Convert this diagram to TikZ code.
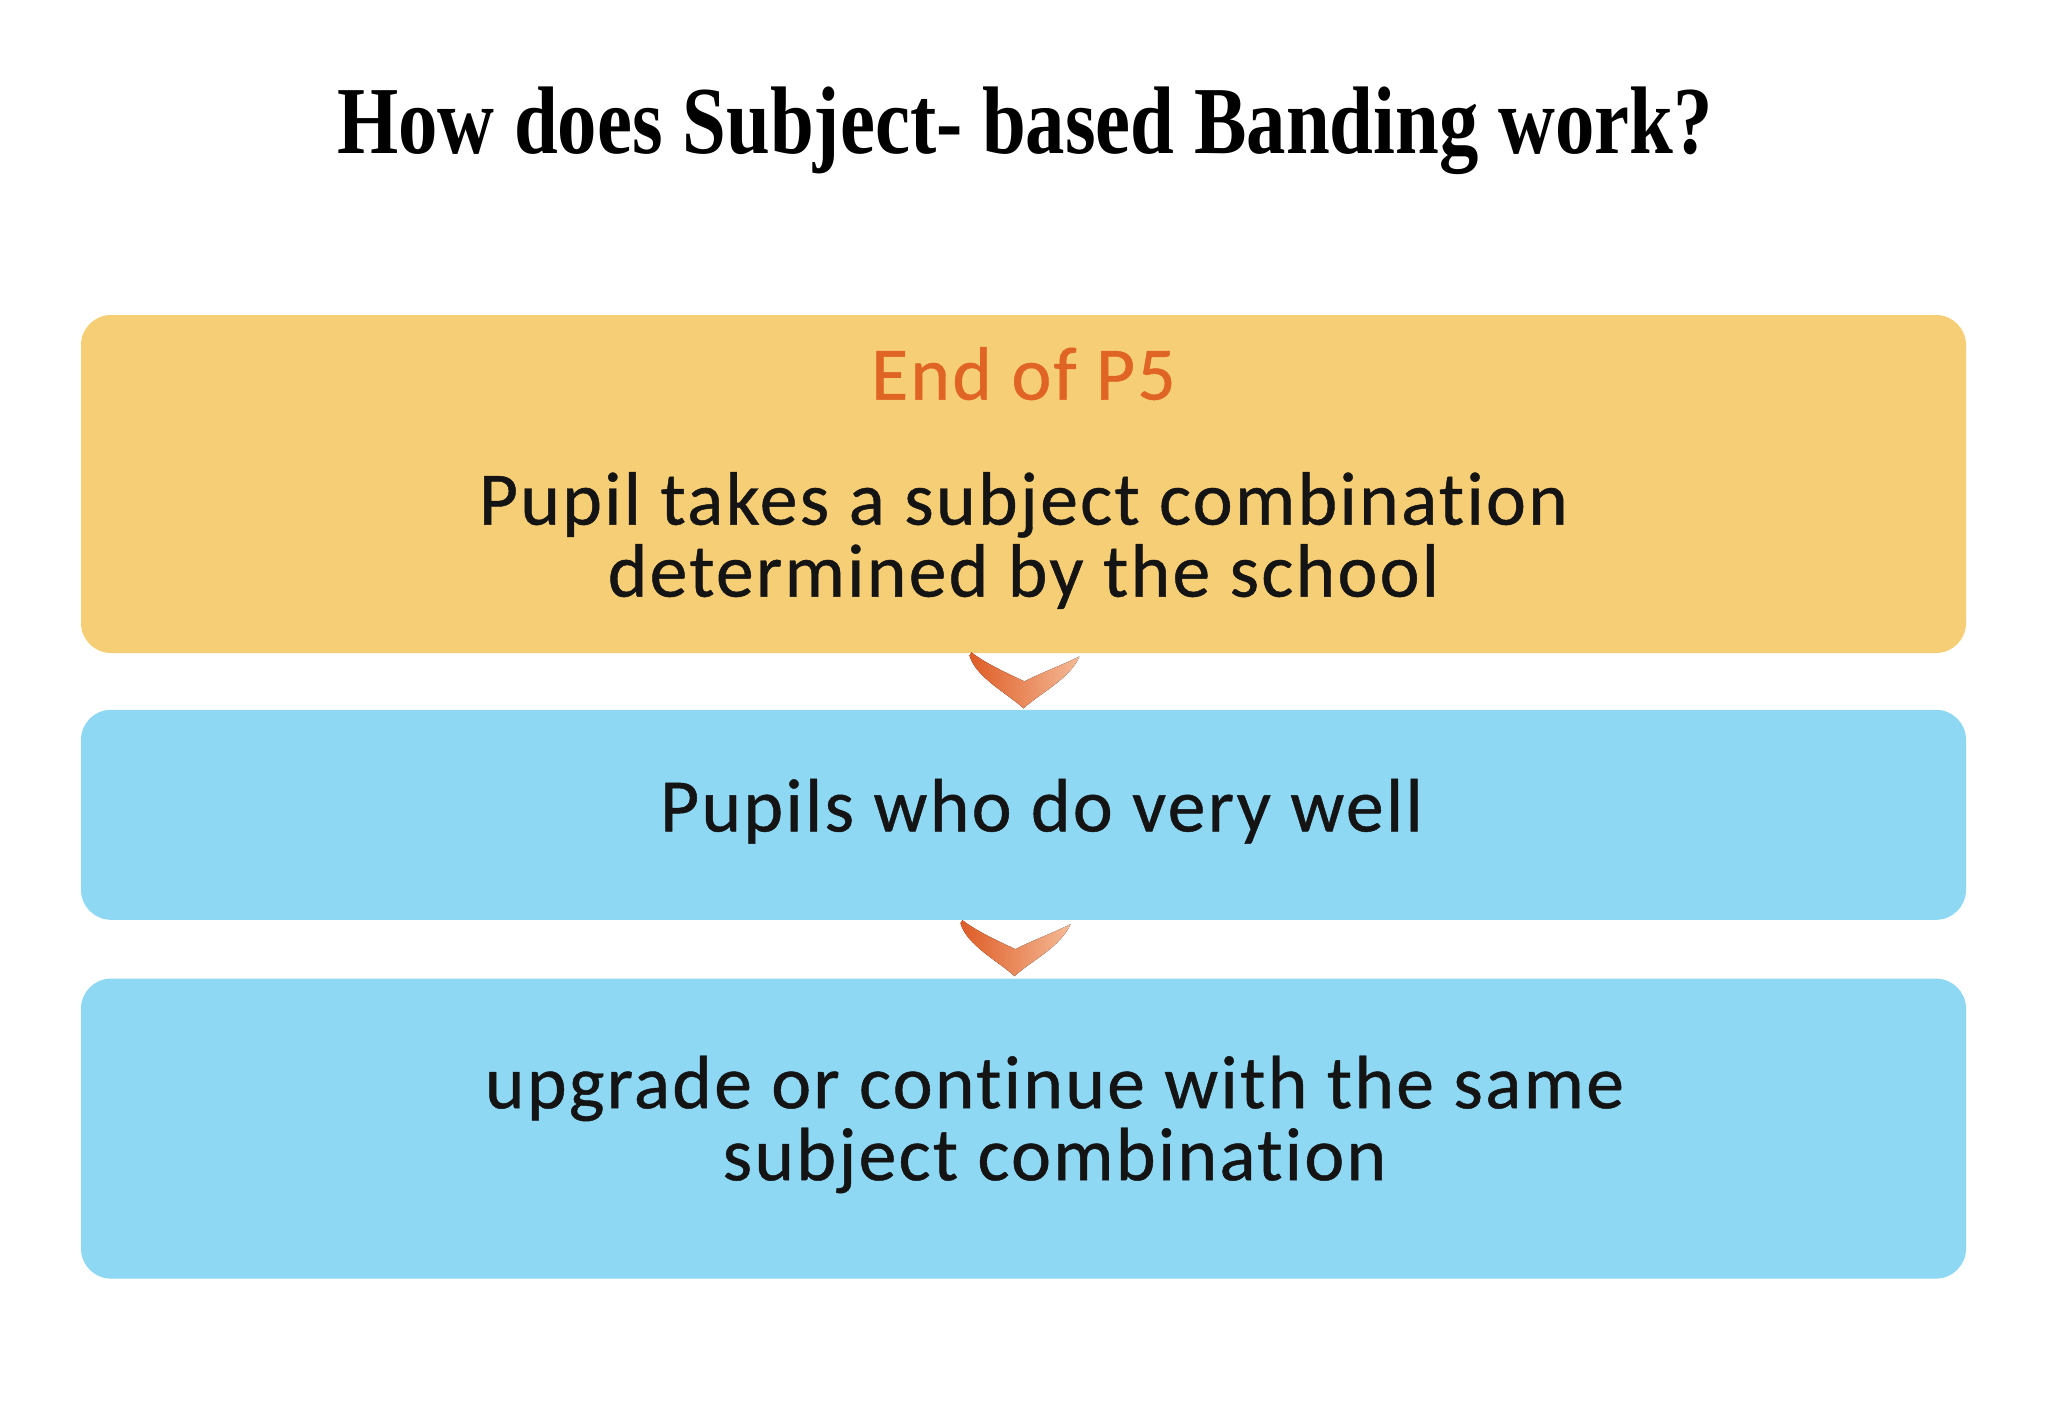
\documentclass[tikz,border=0pt]{standalone}
\usepackage{fontspec}
\setmainfont{Carlito}[LetterSpace=3, FakeBold=0.6, Ligatures=NoCommon]
\newfontfamily\titlefont[FakeStretch=0.82]{Liberation Serif}
\usetikzlibrary{positioning,calc}
\definecolor{bandyellow}{RGB}{246,206,118}
\definecolor{bandblue}{RGB}{142,216,244}
\definecolor{bandorange}{RGB}{224,100,36}
\definecolor{chevdark}{RGB}{222,92,38}
\definecolor{chevlight}{RGB}{245,186,150}
\tikzstyle{stage} = [rectangle, rounded corners=15pt, minimum width=942.5pt, inner sep=0pt]
\tikzstyle{say} = [anchor=base, align=center, inner sep=0pt, text=black!92, font=\fontsize{37.8}{36}\selectfont]
\tikzstyle{chev} = [left color=chevdark, right color=chevlight]

\begin{document}
\begin{tikzpicture}[x=0.5pt,y=-0.5pt,node distance=28pt]
  \useasboundingbox (0,0) rectangle (2048,1418);
  \node[anchor=base, inner sep=0pt, font=\titlefont\bfseries\fontsize{48}{48}\selectfont] (title) at (1025,153) {How does Subject- based Banding work?};

  \node[stage, fill=bandyellow, minimum height=169pt] (P_fuenf) at (1023.5,484) {};
  \node[stage, fill=bandblue, minimum height=105pt] (gut) [below=28pt of P_fuenf] {};
  \node[stage, fill=bandblue, minimum height=150pt] (weiter) [below=29pt of gut] {};

  \node[say, text=bandorange] (P5_text) at ($(P_fuenf.north)+(0,85)$) {End of P5};
  \node[say] (P5_body) at ($(P_fuenf.north)+(0,282)$) {Pupil takes a subject combination\\determined by the school};
  \node[say] (gut_text) at ($(gut.north)+(18,122)$) {Pupils who do very well};
  \node[say] (weiter_text) at ($(weiter.north)+(31,202)$) {upgrade or continue with the same\\subject combination};

  \coordinate (v1) at ($(P_fuenf.south)!0.5!(gut.north)$);
  \coordinate (v2) at ($(gut.south)!0.5!(weiter.north)+(-9,0)$);
  \foreach \v in {v1,v2}
    \fill[chev, shift={(\v)}] (-54,-26) .. controls (-48,-4) and (-16,12) .. (0,27)
      .. controls (16,12) and (46,-2) .. (56,-25)
      .. controls (38,-16) and (16,-8) .. (1,0)
      .. controls (-16,-8) and (-38,-18) .. (-52,-29) -- cycle;
\end{tikzpicture}
\end{document}
